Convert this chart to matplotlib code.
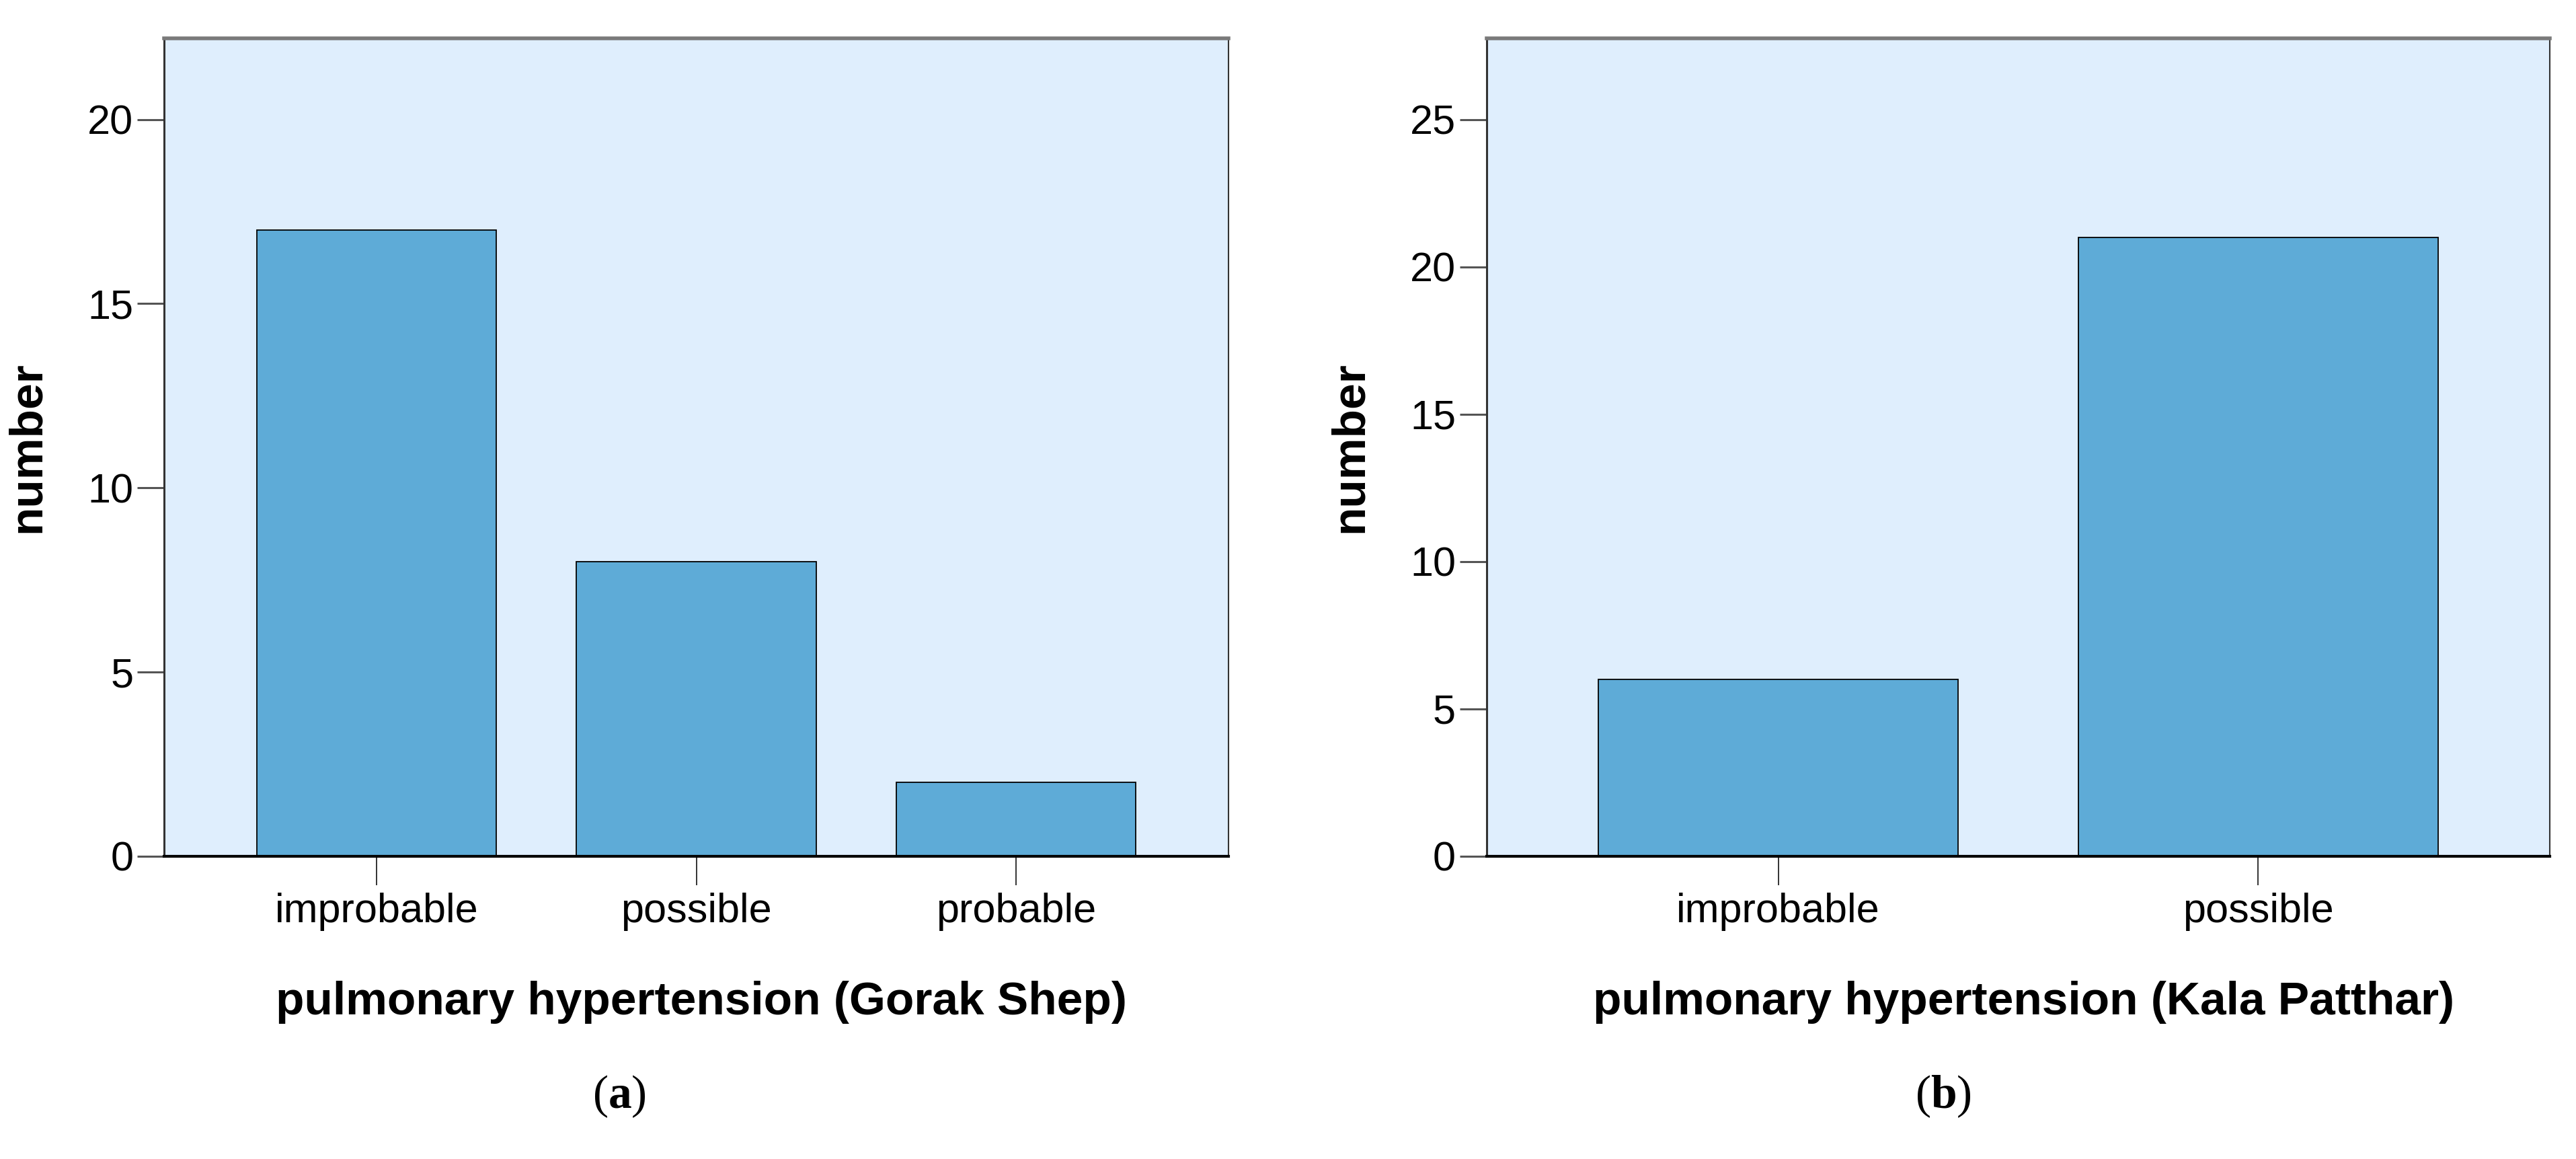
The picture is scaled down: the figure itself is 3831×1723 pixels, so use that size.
import matplotlib.pyplot as plt
import numpy as np

plt.rcParams["font.family"] = ["Liberation Sans", "DejaVu Sans"]
plt.rcParams["mathtext.fontset"] = "custom"
plt.rcParams["mathtext.rm"] = "Liberation Serif"
plt.rcParams["mathtext.bf"] = "Liberation Serif:bold"

GORAK_CATEGORIES = ["improbable", "possible", "probable"]
GORAK_COUNTS = [17, 8, 2]
GORAK_YTICKS = [0, 5, 10, 15, 20]

KALA_CATEGORIES = ["improbable", "possible"]
KALA_COUNTS = [6, 21]
KALA_YTICKS = [0, 5, 10, 15, 20, 25]

FACE_COLOR = "#dfeefd"
BAR_COLOR = "#5eabd7"
TICK_SIZE = 44
LABEL_SIZE = 50


def draw_panel(ax, categories, counts, yticks, ymax, xpad, xlabel):
    x = np.arange(len(categories))
    ax.set_facecolor(FACE_COLOR)
    ax.bar(x, counts, width=0.75, color=BAR_COLOR, edgecolor="black", linewidth=1.3, zorder=2)

    ax.set_xlim(-xpad, len(categories) - 1 + xpad)
    ax.set_ylim(0, ymax)
    ax.set_xticks(x)
    ax.set_xticklabels(categories)
    ax.set_yticks(yticks)

    ax.tick_params(axis="x", length=31, width=1.2, color="#111111", pad=8, labelsize=TICK_SIZE)
    ax.tick_params(axis="y", length=29, width=2.2, color="#555555", pad=4, labelsize=TICK_SIZE)

    ax.spines["top"].set_color("#7a7a7a")
    ax.spines["top"].set_linewidth(4)
    ax.spines["left"].set_color("#333333")
    ax.spines["left"].set_linewidth(2.2)
    ax.spines["bottom"].set_color("black")
    ax.spines["bottom"].set_linewidth(3)
    ax.spines["right"].set_color("#333333")
    ax.spines["right"].set_linewidth(1.5)

    ax.set_xlabel(xlabel, fontsize=LABEL_SIZE, fontweight="bold")
    ax.set_ylabel("number", fontsize=LABEL_SIZE, fontweight="bold")
    ax.xaxis.set_label_coords(0.505, -0.152)
    ax.yaxis.set_label_coords(-0.108, 0.5)


def main():
    fig = plt.figure(figsize=(38.31, 17.23), dpi=100)

    ax_a = fig.add_axes([0.0637, 0.2612, 0.4132, 0.7057])
    draw_panel(ax_a, GORAK_CATEGORIES, GORAK_COUNTS, GORAK_YTICKS, 22.2, 0.665,
               "pulmonary hypertension (Gorak Shep)")

    ax_b = fig.add_axes([0.5771, 0.2612, 0.4127, 0.7057])
    draw_panel(ax_b, KALA_CATEGORIES, KALA_COUNTS, KALA_YTICKS, 27.76, 0.608,
               "pulmonary hypertension (Kala Patthar)")

    for xpos, letter in [(0.2404, "a"), (0.7544, "b")]:
        fig.text(xpos, 0.054, rf"$(\mathbf{{{letter}}})$", ha="center", va="center",
                 fontsize=50)

    fig.savefig("out.png", dpi=100)


if __name__ == "__main__":
    main()
